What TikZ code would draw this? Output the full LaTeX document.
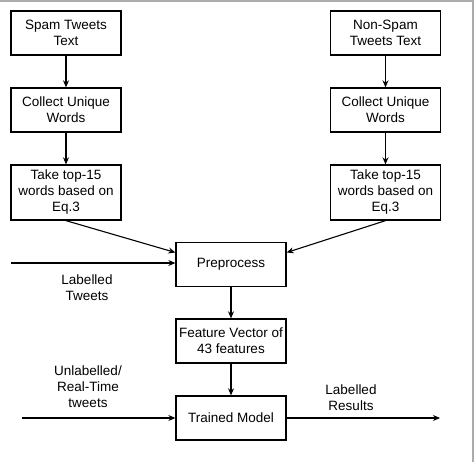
\documentclass[tikz,border=0pt]{standalone}
\usepackage{fontspec}
\setmainfont{Liberation Sans}
\usepackage{tikz}
\usetikzlibrary{arrows.meta}

\begin{document}
\begin{tikzpicture}[x=1pt, y=-1pt,
		caja/.style={draw, line width=1.3pt, align=center, inner sep=0pt,
			minimum width=110pt, minimum height=44pt},
		cajaalta/.style={caja, minimum height=55pt},
		flecha/.style={line width=1.1pt, -{Stealth[length=7pt, width=6pt]}},
		etiqueta/.style={align=center}]

			\useasboundingbox (0,0) rectangle (474,462);
			\fontsize{13.5}{16}\selectfont

			% Marco gris
			\fill[gray!65] (0,0) rectangle (474,2.5);
			\fill[gray!65] (471.5,0) rectangle (474,462);

			% Rama de tweets spam
			\node[caja] (spam) at (66,33) {Spam Tweets\\Text};
			\node[caja] (unicasA) at (66,110) {Collect Unique\\Words};
			\node[cajaalta] (topA) at (66,192.5) {Take top-15\\words based on\\Eq.3};

			% Rama de tweets no spam
			\node[caja] (nospam) at (385.5,33) {Non-Spam\\Tweets Text};
			\node[caja] (unicasB) at (385.5,110) {Collect Unique\\Words};
			\node[cajaalta] (topB) at (385.5,192.5) {Take top-15\\words based on\\Eq.3};

			% Cadena central
			\node[caja] (prep) at (231,264.5) {Preprocess};
			\node[caja] (vector) at (231,341) {Feature Vector of\\43 features};
			\node[caja] (modelo) at (231,418) {Trained Model};

			% Extremos libres
			\coordinate (entradaA) at (11,263);
			\coordinate (entradaB) at (22,418);
			\coordinate (salida) at (440,418);

			% Flechas
			\draw[flecha] (spam) -- (unicasA);
			\draw[flecha] (unicasA) -- (topA);
			\draw[flecha] (nospam) -- (unicasB);
			\draw[flecha] (unicasB) -- (topB);
			\draw[flecha] (topA.south) -- ([yshift=12pt]prep.west);
			\draw[flecha] (topB.south) -- ([yshift=12pt]prep.east);
			\draw[flecha] (entradaA) -- ([yshift=1.5pt]prep.west);
			\draw[flecha] (prep) -- (vector);
			\draw[flecha] (vector) -- (modelo);
			\draw[flecha] (entradaB) -- (modelo.west);
			\draw[flecha] (modelo.east) -- (salida);

			% Etiquetas
			\node[etiqueta] (lblA) at (87,288) {Labelled\\Tweets};
			\node[etiqueta] (lblB) at (88,387) {Unlabelled/\\Real-Time\\tweets};
			\node[etiqueta] (lblC) at (351,398) {Labelled\\Results};

		\end{tikzpicture}
\end{document}
